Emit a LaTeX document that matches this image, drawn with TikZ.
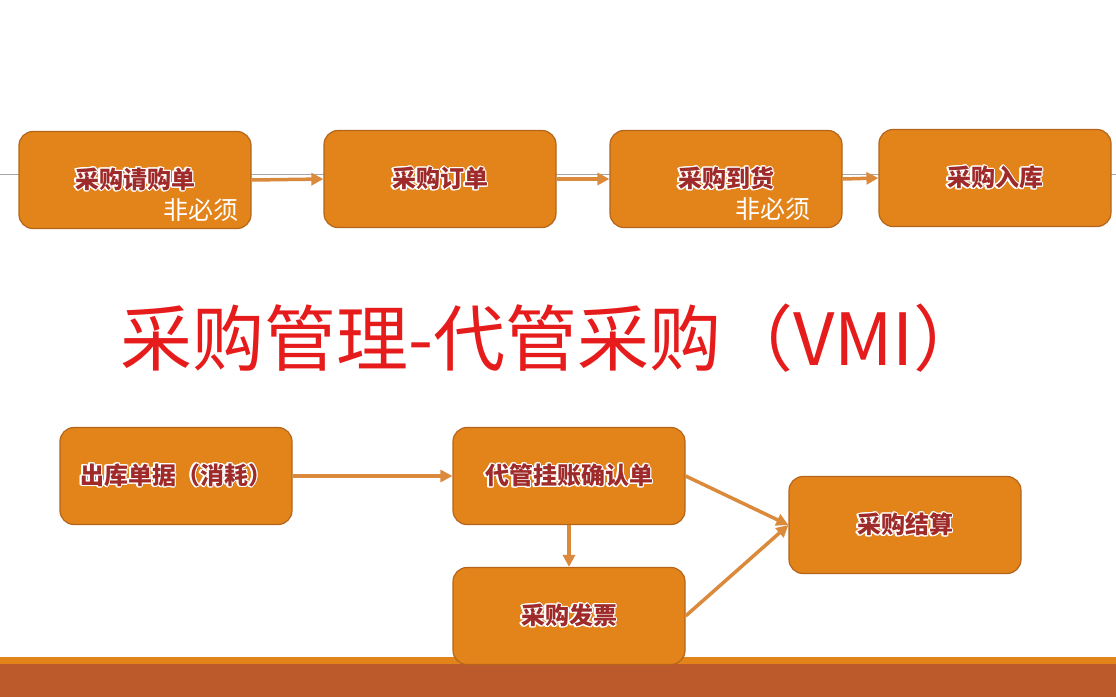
\documentclass[tikz,border=0pt]{standalone}
\usepackage{fontspec}
\newfontfamily\cjk{Noto Sans CJK SC}
\usepackage[copies]{contour}
\contourlength{1.3pt}
\usetikzlibrary{arrows.meta}
\definecolor{boxfill}{HTML}{E2841A}
\definecolor{boxline}{HTML}{B5651B}
\definecolor{txtred}{HTML}{9E2B2A}
\definecolor{arrowc}{HTML}{DB8A3C}
\definecolor{titlered}{HTML}{E61C1C}
\definecolor{barorange}{HTML}{E3841A}
\definecolor{barbrown}{HTML}{BD5A2C}
\tikzset{
  stepbox/.style={draw=boxline, line width=1.2pt, fill=boxfill, rounded corners=14pt,
    minimum width=232pt, minimum height=97pt, inner sep=0pt,
    font=\cjk\bfseries\fontsize{24}{26}\selectfont, text=txtred},
  note/.style={font=\cjk\fontsize{25}{27}\selectfont, text=white, inner sep=0pt},
  flow/.style={draw=arrowc, line width=3.5pt, -{Triangle[length=12pt,width=12pt]}}
}
\begin{document}
\begin{tikzpicture}[x=1pt,y=-1pt]
  \useasboundingbox (0,0) rectangle (1116,697);
  \fill[white] (0,0) rectangle (1116,697);
  \draw[gray!70, line width=0.6pt] (0,174) -- (1116,174);
  % bande du bas
  \fill[barorange] (0,657) rectangle (1116,664);
  \fill[barbrown] (0,664) rectangle (1116,697);
  % ligne du haut
  \node[stepbox] (qingou) at (135,180) {\contour{white}{采购请购单}};
  \node[stepbox] (dingdan) at (440,179) {\contour{white}{采购订单}};
  \node[stepbox] (daohuo) at (726,179) {\contour{white}{采购到货}};
  \node[stepbox] (ruku) at (995,178) {\contour{white}{采购入库}};
  \node[note] (opt1) at (201,210) {非必须};
  \node[note] (opt2) at (773,209) {非必须};
  \draw[flow] (qingou.east) -- (dingdan.west);
  \draw[flow] (dingdan.east) -- (daohuo.west);
  \draw[flow] (daohuo.east) -- (ruku.west);
  % titre
  \node[font=\cjk\fontsize{72}{78}\selectfont, text=titlered] (titre) at (553,338) {采购管理-代管采购（VMI）};
  % ligne du bas
  \node[stepbox] (chuku) at (176,476) {\contour{white}{出库单据（消耗）}};
  \node[stepbox] (guazhang) at (569,476) {\contour{white}{代管挂账确认单}};
  \node[stepbox] (fapiao) at (569,616) {\contour{white}{采购发票}};
  \node[stepbox] (jiesuan) at (905,525) {\contour{white}{采购结算}};
  \draw[flow] (chuku.east) -- (guazhang.west);
  \draw[flow] (guazhang.south) -- (fapiao.north);
  \draw[flow] (guazhang.east) -- (jiesuan.west);
  \draw[flow] (fapiao.east) -- (jiesuan.west);
\end{tikzpicture}
\end{document}
